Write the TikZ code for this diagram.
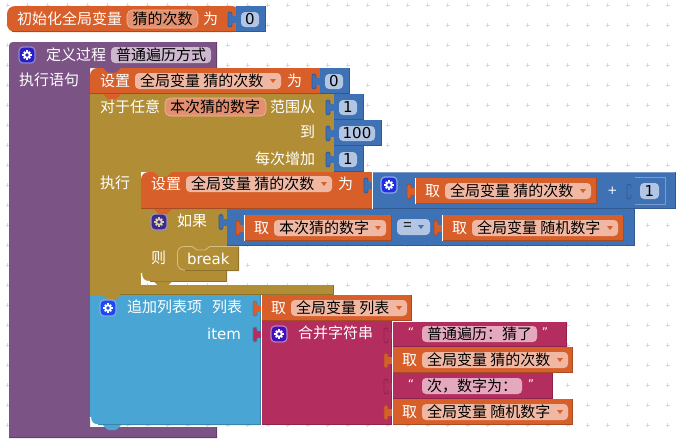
\documentclass[tikz,border=0pt]{standalone}
\usepackage{fontspec}
\setmainfont{Noto Sans CJK SC}
\newfontfamily\latinf{DejaVu Sans}
\definecolor{org}{HTML}{D95F2A}
\definecolor{orgD}{HTML}{A84A22}
\definecolor{orgF}{HTML}{F0B8A2}
\definecolor{orgG}{HTML}{E2906F}
\definecolor{blu}{HTML}{3F71B5}
\definecolor{bluD}{HTML}{325A91}
\definecolor{bluL}{HTML}{7A9BCB}
\definecolor{bluF}{HTML}{B2C6E4}
\definecolor{gld}{HTML}{B18E35}
\definecolor{gldD}{HTML}{8E722A}
\definecolor{gldL}{HTML}{D6C088}
\definecolor{prp}{HTML}{7C5385}
\definecolor{prpD}{HTML}{63426A}
\definecolor{prpF}{HTML}{CDB8D0}
\definecolor{lst}{HTML}{49A6D4}
\definecolor{lstD}{HTML}{3A85AA}
\definecolor{mag}{HTML}{B32D5E}
\definecolor{magD}{HTML}{8F244B}
\definecolor{magF}{HTML}{E5A9BD}
\definecolor{grd}{HTML}{DADADA}
\definecolor{gearA}{HTML}{2A1FC4}
\definecolor{gearAb}{HTML}{8F86D8}
\definecolor{gearB}{HTML}{3A2A90}
\definecolor{gearBb}{HTML}{9E92B8}
\definecolor{gearBg}{HTML}{D9CDA8}
\definecolor{gearC}{HTML}{1E2FE0}
\definecolor{gearCb}{HTML}{8FA4E8}
\definecolor{gearD}{HTML}{1A4AF0}
\definecolor{gearDb}{HTML}{86A6F0}
\definecolor{gearE}{HTML}{4010B8}
\definecolor{gearEb}{HTML}{B57FC4}
\tikzset{
  wt/.style={text=white,font=\fontsize{11.25}{12}\selectfont,inner sep=0pt,outer sep=0pt},
  bt/.style={text=black,font=\fontsize{11.25}{12}\selectfont,inner sep=0pt,outer sep=0pt},
}
% value block with bevel: x1 y1 x2 y2 fill dark
\newcommand{\blk}[6]{%
  \fill[#5] (#1,#2) rectangle (#3,#4);
  \draw[#6,line width=0.75pt] (#3-.5,#2) -- (#3-.5,#4-.5) -- (#1,#4-.5);
}
% white left edge of a nested value block
\newcommand{\whedge}[3]{\draw[white,line width=0.5pt] (#1+.2,#2) -- (#1+.2,#3);}
% left puzzle tab: x, top y, colour
\newcommand{\tabb}[4]{%
  \fill[#3,rounded corners=1.5] (#1-8,#2) rectangle (#1-4,#2+15);
  \fill[#3] (#1-5,#2+4) rectangle (#1,#2+11);
  \draw[#4,line width=0.6pt,rounded corners=1.5] (#1-4,#2+4) -- (#1-4,#2) -- (#1-8,#2) -- (#1-8,#2+15) -- (#1-4,#2+15) -- (#1-4,#2+11);
}
% statement tab below a block
\newcommand{\vtab}[3]{\fill[#3] (#1,#2) -- (#1+5,#2+5) -- (#1+13,#2+5) -- (#1+18,#2) -- cycle;}
% field: name x1 y1 x2 y2 fill text
\newcommand{\fld}[7]{%
  \fill[#6,rounded corners=3] (#2,#3) rectangle (#4,#5);
  \node[bt,anchor=west] (#1) at (#2+5,{(#3+#5)/2}) {#7};
}
% dropdown triangle
\newcommand{\drp}[3]{\fill[#3] (#1-3,#2-2) -- (#1+3,#2-2) -- (#1,#2+2) -- cycle;}
% gear icon: x y (top left) bg border gear
\newcommand{\gear}[5]{%
  \fill[#3] (#1,#2) [rounded corners=3] rectangle (#1+16,#2+16);
  \draw[#4,line width=0.9pt,rounded corners=3] (#1,#2) rectangle (#1+16,#2+16);
  \foreach \a in {0,45,...,315}{\draw[#5,line width=1.3pt] (#1+8,#2+8) -- ++(\a:4.6);}
  \fill[#5] (#1+8,#2+8) circle[radius=3.8];
  \fill[#3] (#1+8,#2+8) circle[radius=1.9];
}
\begin{document}
\begin{tikzpicture}[x=0.75pt,y=-0.75pt]
\useasboundingbox (0,0) rectangle (679,444);
\fill[white] (0,0) rectangle (679,444);
% dotted workspace grid
\foreach \i in {0,...,33}{\foreach \j in {0,...,21}{
  \draw[grd,line width=0.75pt] ({7.7+20*\i-2},{5+20*\j}) -- ++(4,0) ({7.7+20*\i},{5+20*\j-2}) -- ++(0,4);
}}
% === top global
\fill[org,rounded corners=6] (7,6) rectangle (240,32);
\draw[orgD,line width=0.75pt] (12,31.5) -- (236,31.5);
\blk{236}{6}{266}{32}{blu}{bluD}
\tabb{236}{12}{blu}{bluD}
\node[wt,anchor=west] (t1) at (17,19) {初始化全局变量};
\fill[orgG,rounded corners=4] (127,10) rectangle (198,28);
\draw[orgF,line width=0.5pt,rounded corners=4] (127,10) rectangle (198,28);
\node[bt,anchor=west] (t2) at (132.5,19) {猜的次数};
\node[wt,anchor=west] (t3) at (203,19) {为};
\fld{v0}{241}{12}{259}{27}{bluF}{}
\node[bt] (n0) at (250,19.5) {\latinf 0};
% === procedure
\fill[prp] (9,438) -- (9,46) .. controls (9,43.5) and (10.5,42) .. (13,42) -- (217,42) -- (217,68) -- (90,68) -- (90,427) -- (217,427) -- (217,438) -- cycle;
\draw[prpD,line width=0.75pt] (216.5,42) -- (216.5,68) (9,437.5) -- (216.5,437.5) -- (216.5,427);
\gear{19}{47}{gearA}{gearAb}{white}
\node[wt,anchor=west] (p1) at (46,55) {定义过程};
\fld{p2}{111}{47}{211}{63}{prpF}{普通遍历方式}
\node[wt,anchor=west] (p3) at (19,80) {执行语句};
% === for each (gold, drawn first)
\fill[gld] (90,94) rectangle (334,172);
\fill[gld] (90,172) rectangle (141,295);
\fill[gld] (90,285) rectangle (333.5,295);
\draw[gldD,line width=0.75pt] (333,285) -- (333,294.6) -- (120,294.6);
\node[wt,anchor=west] (f1) at (100,107) {对于任意};
\fill[orgG,rounded corners=4] (165,98) rectangle (266,116);
\draw[orgF,line width=0.5pt,rounded corners=4] (165,98) rectangle (266,116);
\node[bt,anchor=west] (f2) at (170,107) {本次猜的数字};
\node[wt,anchor=west] (f3) at (270,107) {范围从};
\node[wt,anchor=east] (f4) at (315,132) {到};
\node[wt,anchor=east] (f5) at (315,159) {每次增加};
\node[wt,anchor=west] (f6) at (100,183) {执行};
\blk{334}{94}{364}{120}{blu}{bluD}
\tabb{334}{100}{blu}{bluD}
\fld{b1}{339}{100}{357}{115}{bluF}{}
\node[bt] (n1) at (348,107.5) {\latinf 1};
\blk{334}{120}{382}{146}{blu}{bluD}
\tabb{334}{126}{blu}{bluD}
\fld{b2}{339}{126}{375}{141}{bluF}{}
\node[bt] (n2) at (357,133.5) {\latinf 100};
\blk{334}{146}{364}{172}{blu}{bluD}
\tabb{334}{152}{blu}{bluD}
\fld{b3}{339}{152}{357}{167}{bluF}{}
\node[bt] (n3) at (348,159.5) {\latinf 1};
% === set (first)
\fill[org] (90,94) -- (90,76) .. controls (90,71) and (93,68) .. (98,68) -- (324,68) -- (324,94) -- cycle;
\vtab{103}{67.5}{prp}
\draw[orgD,line width=0.75pt] (90,93.6) -- (320,93.6);
\vtab{103}{94}{org}
\blk{320}{68}{350}{94}{blu}{bluD}
\tabb{320}{74}{blu}{bluD}
\node[wt,anchor=west] (s1) at (100,81) {设置};
\fld{s2}{135}{73}{281}{89}{orgF}{全局变量 猜的次数}
\drp{273}{81}{org}
\node[wt,anchor=west] (s3) at (287,81) {为};
\fld{s4}{325}{74}{343}{89}{bluF}{}
\node[bt] (n4) at (334,81.5) {\latinf 0};
% === if block
\fill[gld] (141,209) -- (227,209) -- (227,281.5) -- (150,281.5) .. controls (144,281.5) and (141,279) .. (141,273) -- cycle;
\draw[gldD,line width=0.75pt] (150,281.2) -- (226.5,281.2) -- (226.5,271);
\draw[white,line width=1pt] (141.4,273) .. controls (141.4,279) and (144,281.8) .. (150,281.8);
\vtab{154}{281.5}{gld}
\gear{151}{214}{gearB}{gearBb}{gearBg}
\node[wt,anchor=west] (i1) at (177,221) {如果};
\node[wt,anchor=west] (i2) at (151,258) {则};
% break
\fill[gld] (239,246) -- (185,246) .. controls (180,246) and (177,249) .. (177,254) -- (177,263) .. controls (177,268) and (180,271) .. (185,271) -- (239,271) -- cycle;
\draw[gldD,line width=0.75pt] (238.6,246) -- (238.6,270.6) -- (185,270.6);
\draw[gldL,line width=0.6pt] (239,246.4) -- (210,246.4) -- (205,250) -- (197,250) -- (192,246.4) -- (185,246.4) .. controls (180,246.4) and (177.4,249) .. (177.4,254) -- (177.4,263) .. controls (177.4,267) and (180,270) .. (185,270.2);
\node[wt,anchor=west] (i3) at (187,258.5) {\latinf break};
% compare block
\blk{227}{209}{635}{246}{blu}{bluD}
\tabb{227}{214.5}{blu}{bluD}
\blk{244}{215}{392}{241}{org}{orgD}
\whedge{244}{215}{241}
\tabb{244}{220.5}{org}{orgD}
\node[wt,anchor=west] (c1) at (254,228) {取};
\fld{c2}{274}{220}{386}{236}{orgF}{本次猜的数字}
\drp{378}{228}{org}
\fill[bluF,rounded corners=3] (397,219) rectangle (430,235);
\node[bt] (c3) at (407.5,227) {=};
\drp{421}{227}{blu}
\blk{442}{215}{624}{241}{org}{orgD}
\whedge{442}{215}{241}
\tabb{442}{220.5}{org}{orgD}
\node[wt,anchor=west] (c4) at (452,228) {取};
\fld{c5}{472}{220}{618}{236}{orgF}{全局变量 随机数字}
\drp{610}{228}{org}
% === set (second)
\fill[org] (141,209) -- (141,180) .. controls (141,175) and (144,172) .. (149,172) -- (375,172) -- (375,209) -- cycle;
\vtab{154}{171.5}{gld}
\draw[orgD,line width=0.75pt] (141,208.6) -- (371.5,208.6);
\vtab{154}{209}{org}
\node[wt,anchor=west] (d1) at (151,184) {设置};
\fld{d2}{186}{176}{332}{192}{orgF}{全局变量 猜的次数}
\drp{324}{184}{org}
\node[wt,anchor=west] (d3) at (338,184) {为};
\blk{372}{172}{676}{209}{blu}{bluD}
\draw[bluL,line width=0.6pt] (372,172.7) -- (675,172.7);
\whedge{372}{172}{209}
\tabb{372}{178}{blu}{bluD}
\gear{381}{177}{gearC}{gearCb}{white}
\blk{415}{178}{597}{204}{org}{orgD}
\whedge{415}{178}{204}
\tabb{415}{184}{org}{orgD}
\node[wt,anchor=west] (a1) at (425,191) {取};
\fld{a2}{445}{183}{591}{199}{orgF}{全局变量 猜的次数}
\drp{583}{191}{org}
\node[wt] (a3) at (612.5,190.5) {\latinf\fontsize{9}{10}\selectfont +};
\draw[bluL,line width=0.6pt] (635,177.7) -- (665.4,177.7) -- (665.4,204) -- (635,204);
\tabb{635}{184}{blu}{bluD}
\fld{a4}{640}{183}{659}{199}{bluF}{}
\node[bt] (n5) at (649.5,191) {\latinf 1};
% === add list
\fill[lst] (90,295) -- (261,295) -- (261,425) -- (98,425) .. controls (93,425) and (90,422) .. (90,417) -- cycle;
\draw[lstD,line width=0.75pt] (98,424.6) -- (260.6,424.6) -- (260.6,295);
\draw[white,line width=1pt] (90.4,417) .. controls (90.4,422) and (93,425) .. (98,425);
\vtab{103}{295}{gld}
\vtab{103}{425}{lst}
\gear{100}{300}{gearD}{gearDb}{white}
\node[wt,anchor=west] (l1) at (127,307) {追加列表项};
\node[wt,anchor=west] (l2) at (212,307) {列表};
\node[wt,anchor=east] (l3) at (241,334) {\latinf item};
% list getter
\blk{261}{295}{412}{321}{org}{orgD}
\tabb{261}{301}{org}{lstD}
\node[wt,anchor=west] (l4) at (271,308) {取};
\fld{l5}{291}{300}{407}{316}{orgF}{全局变量 列表}
\drp{399}{308}{org}
% join block
\blk{261}{321}{392}{425}{mag}{magD}
\whedge{261}{295}{425}
\tabb{261}{327}{mag}{lstD}
\gear{271}{326}{gearE}{gearEb}{white}
\node[wt,anchor=west] (j1) at (298,333) {合并字符串};
% strings and getters
\blk{392}{322}{567}{347}{mag}{magD}
\tabb{392}{328}{mag}{magD}
\node[wt] (q1) at (411,332) {\latinf\fontsize{9}{10}\selectfont “};
\fld{q2}{422}{326}{537}{342}{magF}{普通遍历：猜了}
\node[wt] (q3) at (545,332) {\latinf\fontsize{9}{10}\selectfont ”};
\blk{392}{347}{573}{373}{org}{orgD}
\tabb{392}{353}{org}{orgD}
\node[wt,anchor=west] (q4) at (402,360) {取};
\fld{q5}{422}{352}{568}{368}{orgF}{全局变量 猜的次数}
\drp{560}{360}{org}
\blk{392}{373}{553}{399}{mag}{magD}
\tabb{392}{379}{mag}{magD}
\node[wt] (q6) at (411,384) {\latinf\fontsize{9}{10}\selectfont “};
\fld{q7}{422}{378}{522}{394}{magF}{次，数字为：}
\node[wt] (q8) at (531,384) {\latinf\fontsize{9}{10}\selectfont ”};
\blk{392}{399}{573}{425}{org}{orgD}
\tabb{392}{405}{org}{orgD}
\node[wt,anchor=west] (q9) at (402,412) {取};
\fld{q10}{422}{404}{568}{420}{orgF}{全局变量 随机数字}
\drp{560}{412}{org}
\whedge{392}{322}{425}
\end{tikzpicture}
\end{document}
